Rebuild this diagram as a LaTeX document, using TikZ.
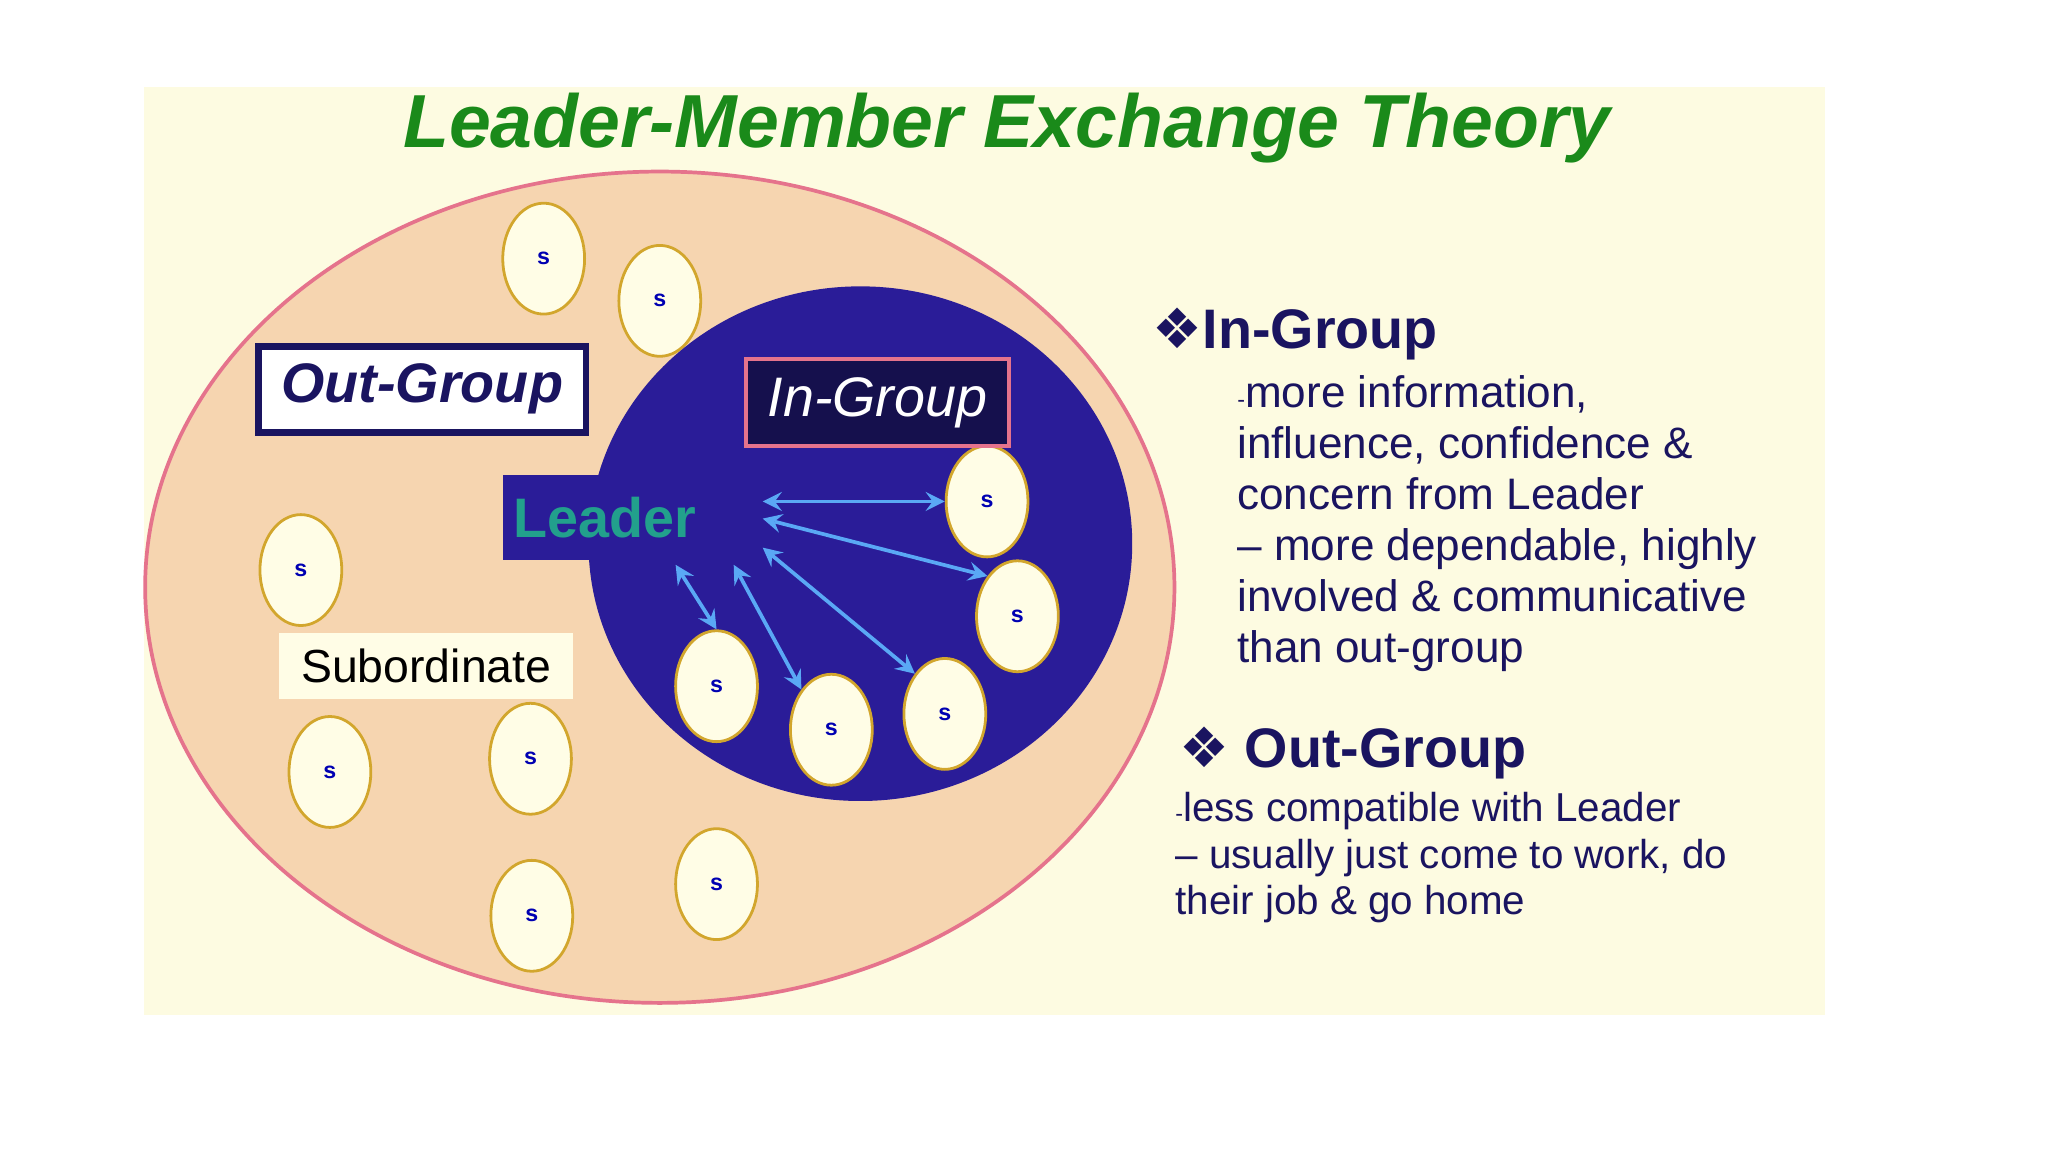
\documentclass[tikz,border=0pt]{standalone}
\usepackage{fontspec}
\usetikzlibrary{shapes.geometric}
\setmainfont{Liberation Sans}
\newfontfamily\symfont{DejaVu Sans}
\begin{document}
\begin{tikzpicture}[x=0.01cm,y=-0.01cm,
  sub/.style={ellipse,draw=brown!70!yellow,fill=cream,line width=0.6pt,minimum width=0.62cm,minimum height=0.84cm,inner sep=0pt,font=\fontsize{5}{6}\selectfont\bfseries,text=blue!70!black},
  lm/.style={<->,>=stealth,draw=arrowblue,line width=0.8pt},
  body/.style={anchor=north west,align=left,text=navy,inner sep=0pt}]
\definecolor{bg}{HTML}{FDFBE1}
\definecolor{peach}{HTML}{F6D5B0}
\definecolor{ingrp}{HTML}{2A1C98}
\definecolor{cream}{HTML}{FFFDE6}
\definecolor{navy}{HTML}{1A1460}
\definecolor{arrowblue}{HTML}{5AA8F5}
\definecolor{titlegreen}{HTML}{1A8A1A}
\definecolor{teal2}{HTML}{22A08C}
\useasboundingbox (0,0) rectangle (1552,873);
\fill[white] (0,0) rectangle (1552,873);
\fill[bg] (109,66) rectangle (1383,769);
\node (title) at (763,97) {\fontsize{16.2}{19}\selectfont\bfseries\itshape\color{titlegreen}Leader-Member Exchange Theory};
\draw[fill=peach,draw=purple!40!pink,line width=0.8pt] (500,445) ellipse [x radius=390,y radius=315];
\node[sub] (o1) at (412,196) {s};
\node[sub] (o2) at (500,228) {s};
\fill[ingrp] (652,412) ellipse [x radius=206,y radius=195];
\node[sub] (o3) at (228,432) {s};
\node[sub] (o4) at (250,585) {s};
\node[sub] (o5) at (402,575) {s};
\node[sub] (o6) at (403,694) {s};
\node[sub] (o7) at (543,670) {s};
\node[sub] (i1) at (748,380) {s};
\node[sub] (i2) at (771,467) {s};
\node[sub] (i3) at (543,520) {s};
\node[sub] (i4) at (630,553) {s};
\node[sub] (i5) at (716,541) {s};
\node[fill=ingrp,minimum width=1.54cm,minimum height=0.64cm,inner sep=0pt,font=\fontsize{12}{14}\selectfont\bfseries,text=teal2] (leader) at (458,392) {Leader};
\node[fill=navy!80!black,draw=purple!40!pink,line width=0.8pt,minimum width=1.99cm,minimum height=0.66cm,font=\fontsize{12}{14}\selectfont\itshape,text=white] (ing) at (665,305) {In-Group};
\node[fill=white,draw=navy,line width=1.5pt,minimum width=2.48cm,minimum height=0.65cm,font=\fontsize{12}{14}\selectfont\bfseries\itshape,text=navy] (outg) at (320,295) {Out-Group};
\node[fill=cream,minimum width=2.23cm,minimum height=0.5cm,font=\fontsize{10}{12}\selectfont] (subo) at (323,505) {Subordinate};
\coordinate (a0) at (578,380); \coordinate (a1) at (578,393); \coordinate (a2) at (578,415);
\coordinate (a3) at (556,428); \coordinate (a4) at (512,428);
\draw[lm] (a0) -- (i1.west);
\draw[lm] (a1) -- (i2.north west);
\draw[lm] (a2) -- (i5.north west);
\draw[lm] (a3) -- (i4.north west);
\draw[lm] (a4) -- (i3.north);
\node[anchor=west,text=navy,inner sep=0pt,font=\fontsize{12}{14}\selectfont\bfseries] (h1) at (873,253) {{\symfont ❖}In-Group};
\node[body,font=\fontsize{9.5}{11}\selectfont] (b1) at (937,284) {{\tiny -}more information,\\influence, confidence \&\\concern from Leader\\– more dependable, highly\\involved \& communicative\\than out-group};
\node[anchor=west,text=navy,inner sep=0pt,font=\fontsize{12}{14}\selectfont\bfseries] (h2) at (893,571) {{\symfont ❖} Out-Group};
\node[body,font=\fontsize{8.7}{10}\selectfont] (b2) at (890,600) {{\tiny -}less compatible with Leader\\– usually just come to work, do\\their job \& go home};
\end{tikzpicture}
\end{document}
